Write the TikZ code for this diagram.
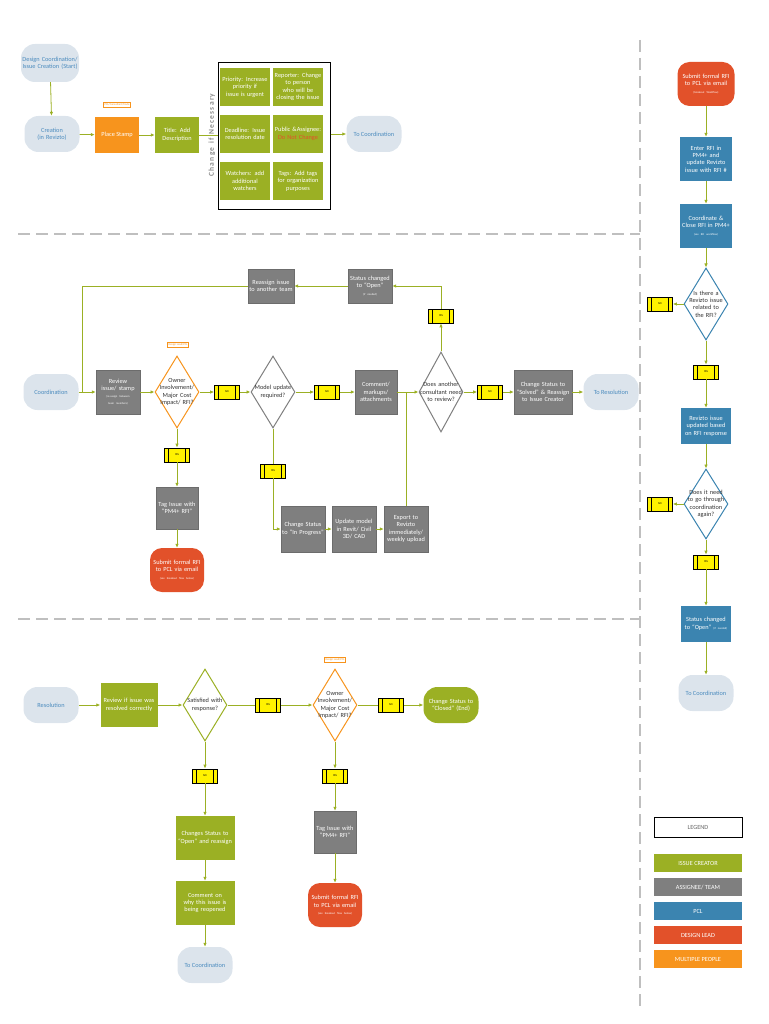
\documentclass[tikz,border=0pt]{standalone}
\usepackage{fontspec}
\setmainfont{Carlito}
\usetikzlibrary{shapes.geometric,arrows.meta}
\definecolor{cG}{HTML}{9BB024}
\definecolor{cK}{HTML}{7F7F7F}
\definecolor{cB}{HTML}{3B84B0}
\definecolor{cR}{HTML}{E2512A}
\definecolor{cO}{HTML}{F7941D}
\definecolor{cT}{HTML}{DCE4EC}
\definecolor{cTt}{HTML}{4B8BBE}
\definecolor{cL}{HTML}{9BB024}
\newcommand{\fs}{\fontsize{6.3}{7.4}\selectfont\hyphenpenalty=10000\exhyphenpenalty=10000\tolerance=9999}
\newcommand{\ft}{\fontsize{2.8}{3.2}\selectfont}
\begin{document}
\begin{tikzpicture}[x=1pt,y=-1pt,
 base/.style={inner sep=1pt, align=center, font=\fs, text=white},
 grn/.style={base, fill=cG},
 gry/.style={base, fill=cK, draw=cK!85!black, line width=.4pt},
 blu/.style={base, fill=cB},
 red/.style={base, fill=cR, rounded corners=12pt},
 org/.style={base, fill=cO},
 term/.style={base, fill=cT, text=cTt, rounded corners=14pt, minimum width=55, minimum height=36},
 dia/.style={diamond, draw=#1, line width=1pt, fill=white, inner sep=0pt, minimum width=44, minimum height=72},
 dl/.style={font=\fs, align=center, text width=42, text=black!80},
 tag/.style={draw=cO, line width=.7pt, fill=white, font=\ft, text=cO, inner sep=1.2pt},
 yn/.style={fill=yellow, draw=black, line width=.7pt, minimum width=25, minimum height=14, inner sep=0pt, font=\ft,
   path picture={\draw[black,line width=.6pt]
     ([xshift=4pt]path picture bounding box.south west) -- ([xshift=4pt]path picture bounding box.north west)
     ([xshift=-4pt]path picture bounding box.south east) -- ([xshift=-4pt]path picture bounding box.north east);}},
 arr/.style={draw=cL, line width=.8pt, -{Latex[length=4pt,width=3.5pt]}},
 ln/.style={draw=cL, line width=.8pt},
 dsh/.style={draw=black!25, line width=1.2pt, dash pattern=on 12pt off 6pt},
 lg/.style={base, minimum width=88, minimum height=18},
]
\useasboundingbox (0,0) rectangle (768,1024);
% dashed separators
\draw[dsh] (18,234) -- (640,234);
\draw[dsh] (18,619) -- (640,619);
\draw[dsh] (640,40) -- (640,1010);

% ---------- Section 1
\node[term, minimum width=52, minimum height=38, text width=58, inner sep=0pt] (s1) at (50,63) {Design Coordination/ Issue Creation (Start)};
\node[term, text width=50] (cr) at (52,134) {Creation\\(in Revizto)};
\node[org, minimum width=44, minimum height=36] (ps) at (117,135) {Place Stamp};
\node[tag] (pt) at (117,105) {PCL/Consultant/Trade};
\node[grn, minimum width=44, minimum height=36, text width=42] (ti) at (177,135) {Title: Add Description};
\node[draw=black, line width=1pt, minimum width=112, minimum height=147] (bb) at (274,136.5) {};
\node[rotate=90, font=\bfseries\fontsize{7.5}{8}\selectfont, text=black!45] (cn) at (212,135) {C\,h\,a\,n\,g\,e\ \ i\,f\ \ N\,e\,c\,e\,s\,s\,a\,r\,y};
\node[grn, minimum width=46, minimum height=38, text width=48] (p1) at (245,87) {Priority: Increase priority if issue is urgent};
\node[grn, minimum width=46, minimum height=38, text width=48] (p2) at (298,87) {Reporter: Change to person who will be closing the issue};
\node[grn, minimum width=46, minimum height=38, text width=48] (p3) at (245,134) {Deadline: Issue resolution date};
\node[grn, minimum width=46, minimum height=38, text width=48] (p4) at (298,134) {Public \&Assignee:\\\textcolor{cR}{Do Not Change}};
\node[grn, minimum width=46, minimum height=38, text width=48] (p5) at (245,181) {Watchers: add additional watchers};
\node[grn, minimum width=46, minimum height=38, text width=48] (p6) at (298,181) {Tags: Add tags for organization purposes};
\node[term] (tc1) at (374,134) {To Coordination};
\draw[arr] (s1) -- (cr);
\draw[arr] (cr) -- (ps);
\draw[arr] (ps) -- (ti);
\draw[ln] (ti) -- (ti -| bb.west);
\draw[arr] (bb.east |- tc1) -- (tc1);

% ---------- Section 2
\node[term] (co) at (51,392) {Coordination};
\node[gry, minimum width=40, minimum height=44, text width=42] (rv) at (118,392) {Review issue/ stamp\\[-1pt]{\ft (re-assign between team members)}};
\node[dia=cO] (d1) at (177,392) {};
\node[dl] at (d1) {Owner Involvement/ Major Cost Impact/ RFI?};
\node[tag] (t1) at (178,345) {Design Lead/PCL};
\node[yn] (n1) at (227,392) {NO};
\node[dia=cK] (d2) at (273,392) {};
\node[dl] at (d2) {Model update required?};
\node[yn] (n2) at (327,392) {NO};
\node[gry, minimum width=40, minimum height=44, text width=40] (cm) at (376,392) {Comment/ markups/ attachments};
\node[dia=cK, minimum height=80] (d3) at (441,392) {};
\node[dl, text width=46] at (d3) {Does another consultant need to review?};
\node[yn] (n3) at (490,392) {NO};
\node[gry, minimum width=56, minimum height=44, text width=56] (sv) at (543,392) {Change Status to ``Solved'' \& Reassign to Issue Creator};
\node[term] (tr) at (611,392) {To Resolution};
\node[yn] (y3) at (441,316) {YES};
\node[gry, minimum width=40, minimum height=34, text width=42] (so) at (370,286) {Status changed to ``Open'' {\ft (if needed)}};
\node[gry, minimum width=44, minimum height=34, text width=44] (ra) at (271,286) {Reassign issue to another team};
\coordinate (j1) at (82,392);
\node[yn] (y1) at (177,455) {YES};
\node[gry, minimum width=40, minimum height=42, text width=40] (tg) at (177,508) {Tag Issue with ``PM4+ RFI''};
\node[red, minimum width=50, minimum height=44, text width=52] (rf) at (177,570) {Submit formal RFI to PCL via email\\{\ft (see breakout flow below)}};
\node[yn] (y2) at (273,471) {YES};
\node[gry, minimum width=40, minimum height=46, text width=42] (ip) at (303,529) {Change Status to ``In Progress''};
\node[gry, minimum width=40, minimum height=46, text width=42] (um) at (354,529) {Update model in Revit/ Civil 3D/ CAD};
\node[gry, minimum width=40, minimum height=46, text width=42] (ex) at (406,529) {Export to Revizto immediately/ weekly upload};
\draw[arr] (co) -- (rv);
\draw[arr] (rv) -- (d1);
\draw[arr] (d1) -- (n1);
\draw[arr] (n1) -- (d2);
\draw[arr] (d2) -- (n2);
\draw[arr] (n2) -- (cm);
\draw[arr] (cm) -- (d3);
\draw[arr] (d3) -- (n3);
\draw[arr] (n3) -- (sv);
\draw[arr] (sv) -- (tr);
\draw[arr] (d3) -- (y3);
\draw[arr] (y3) |- (so);
\draw[arr] (so) -- (ra);
\draw[ln] (ra) -| (j1);
\draw[arr] (d1) -- (y1);
\draw[arr] (y1) -- (tg);
\draw[arr] (tg) -- (rf);
\draw[ln] (d2) -- (y2);
\draw[arr] (y2) |- (ip);
\draw[arr] (ip) -- (um);
\draw[arr] (um) -- (ex);
\draw[ln] (ex.north) -- (ex.north |- cm);

% ---------- Section 3
\node[term] (rs) at (51,705) {Resolution};
\node[grn, minimum width=55, minimum height=44, text width=55] (rc) at (129,705) {Review if issue was resolved correctly};
\node[dia=cG] (d4) at (205,705) {};
\node[dl] at (d4) {Satisfied with response?};
\node[yn] (y4) at (268,705) {YES};
\node[dia=cO] (d5) at (335,705) {};
\node[dl] at (d5) {Owner Involvement/ Major Cost Impact/ RFI?};
\node[tag] (t2) at (335,660) {Design Lead/PCL};
\node[yn] (n5) at (391,705) {NO};
\node[term, fill=cG, text=white, text width=52] (cl) at (451,705) {Change Status to ``Closed'' (End)};
\node[yn] (n4) at (205,776) {NO};
\node[grn, minimum width=55, minimum height=44, text width=57] (ch) at (205,838) {Changes Status to ``Open'' and reassign};
\node[grn, minimum width=55, minimum height=44, text width=57] (cw) at (205,903) {Comment on why this issue is being reopened};
\node[term] (tc3) at (205,965) {To Coordination};
\node[yn] (y5) at (335,776) {YES};
\node[gry, minimum width=40, minimum height=42, text width=40] (tg2) at (335,832) {Tag Issue with ``PM4+ RFI''};
\node[red, minimum width=50, minimum height=44, text width=52] (rf2) at (335,905) {Submit formal RFI to PCL via email\\{\ft (see breakout flow below)}};
\draw[arr] (rs) -- (rc);
\draw[arr] (rc) -- (d4);
\draw[ln] (d4) -- (y4);
\draw[arr] (y4) -- (d5);
\draw[ln] (d5) -- (n5);
\draw[arr] (n5) -- (cl);
\draw[arr] (d4) -- (n4);
\draw[arr] (n4) -- (ch);
\draw[arr] (ch) -- (cw);
\draw[arr] (cw) -- (tc3);
\draw[arr] (d5) -- (y5);
\draw[arr] (y5) -- (tg2);
\draw[arr] (tg2) -- (rf2);

% ---------- Right column
\node[red, minimum width=55, minimum height=44, text width=55] (rr) at (706,84) {Submit formal RFI to PCL via email\\{\ft (breakout Workflow)}};
\node[blu, minimum width=48, minimum height=44, text width=50] (en) at (706,159) {Enter RFI in PM4+ and update Revizto issue with RFI \#};
\node[blu, minimum width=48, minimum height=44, text width=50] (cc) at (706,226) {Coordinate \& Close RFI in PM4+\\{\ft (see RFI workflow)}};
\node[dia=cB] (q1) at (706,304) {};
\node[dl] at (q1) {Is there a Revizto issue related to the RFI?};
\node[yn] (nq1) at (660,304) {NO};
\node[yn] (yq1) at (706,372) {YES};
\node[blu, minimum width=46, minimum height=36, text width=48] (ru) at (706,426) {Revizto issue updated based on RFI response};
\node[dia=cB, minimum height=70] (q2) at (706,504) {};
\node[dl, text width=46] at (q2) {Does it need to go through coordination again?};
\node[yn] (nq2) at (660,504) {NO};
\node[yn] (yq2) at (706,562) {YES};
\node[blu, minimum width=46, minimum height=36, text width=48] (st) at (706,624) {Status changed to ``Open'' {\ft (if needed)}};
\node[term] (tc2) at (706,693) {To Coordination};
\draw[arr] (rr) -- (en);
\draw[arr] (en) -- (cc);
\draw[arr] (cc) -- (q1);
\draw[arr] (q1) -- (nq1);
\draw[arr] (q1) -- (yq1);
\draw[arr] (yq1) -- (ru);
\draw[arr] (ru) -- (q2);
\draw[arr] (q2) -- (nq2);
\draw[arr] (q2) -- (yq2);
\draw[arr] (yq2) -- (st);
\draw[arr] (st) -- (tc2);

% ---------- Legend
\node[lg, draw=black, line width=.8pt, fill=white, text=black!60, minimum height=20] (lg0) at (698,827) {LEGEND};
\node[lg, fill=cG] (lg1) at (698,863) {ISSUE CREATOR};
\node[lg, fill=cK] (lg2) at (698,887) {ASSIGNEE/ TEAM};
\node[lg, fill=cB] (lg3) at (698,911) {PCL};
\node[lg, fill=cR] (lg4) at (698,935) {DESIGN LEAD};
\node[lg, fill=cO] (lg5) at (698,959) {MULTIPLE PEOPLE};
\end{tikzpicture}
\end{document}
